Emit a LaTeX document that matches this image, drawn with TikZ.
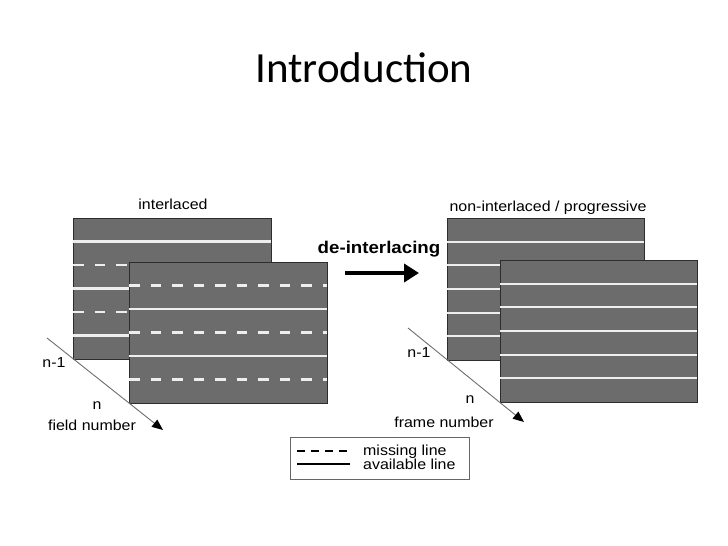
\documentclass[tikz,border=0pt]{standalone}
\usepackage{fontspec}
\newfontfamily\titlefont{Carlito}
\newfontfamily\diagfont[FakeStretch=1.1]{Liberation Sans}
\usetikzlibrary{arrows.meta}
\definecolor{fieldgray}{RGB}{108,108,108}
\definecolor{edgegray}{RGB}{45,45,45}
\definecolor{linewhite}{RGB}{238,238,238}
\definecolor{axisgray}{RGB}{110,110,110}
\begin{document}
\begin{tikzpicture}[x=1pt,y=-1pt,
  field/.style={draw=edgegray, line width=1pt, fill=fieldgray},
  solidline/.style={draw=linewhite, line width=2.2pt},
  dashline/.style={draw=linewhite, line width=2.2pt, dash pattern=on 10.5pt off 11pt},
  lbl/.style={inner sep=0pt, font=\diagfont\fontsize{14.5}{17}\selectfont, text=black},
  axis/.style={draw=axisgray, line width=0.9pt, -{Triangle[length=11pt,width=9pt,color=black]}},
  bigarrow/.style={draw=black, line width=4pt, -{Triangle[length=15pt,width=18pt]}},
  legendbox/.style={draw=black!60, line width=1pt}
]
\useasboundingbox (0,0) rectangle (728,546);
\fill[white] (0,0) rectangle (728,546);

% title
\node[inner sep=0pt, anchor=base, font=\titlefont\fontsize{43}{50}\selectfont] (title) at (364,82) {Introduction};

% ---------- left: interlaced ----------
\path[field] (73,218) rectangle (271,359);
\foreach \y in {241.5,288.5,335.5} \draw[solidline] (73,\y) -- (271,\y);
\foreach \y in {265,312} \draw[dashline] (73,\y) -- (271,\y);
\path[field] (129,262) rectangle (327,403);
\foreach \y in {309,356} \draw[solidline] (129,\y) -- (327,\y);
\foreach \y in {285.5,332.5,379.5} \draw[dashline] (129,\y) -- (327,\y);

\node[lbl, anchor=base] (interl) at (173,209) {interlaced};
\node[lbl, anchor=base] (lnm1) at (54,367) {n-1};
\node[lbl, anchor=base] (ln) at (97,409) {n};
\node[lbl, anchor=base] (lfield) at (92,430) {field number};
\coordinate (la0) at (47,338);
\coordinate (la1) at (163,430);
\draw[axis] (la0) -- (la1);

% ---------- middle arrow ----------
\node[inner sep=0pt, anchor=base, font=\diagfont\bfseries\fontsize{17}{20}\selectfont] (deint) at (379,253) {de-interlacing};
\coordinate (ma0) at (345,273);
\coordinate (ma1) at (419,273);
\draw[bigarrow] (ma0) -- (ma1);

% ---------- right: progressive ----------
\path[field] (447,218) rectangle (644,360);
\foreach \y in {241.7,265.3,289,312.7,336.3} \draw[solidline] (447,\y) -- (644,\y);
\path[field] (500,260) rectangle (697,402);
\foreach \y in {283.7,307.3,331,354.7,378.3} \draw[solidline] (500,\y) -- (697,\y);

\node[lbl, anchor=base] (prog) at (548,211) {non-interlaced / progressive};
\node[lbl, anchor=base] (rnm1) at (419,357) {n-1};
\node[lbl, anchor=base] (rn) at (470,403) {n};
\node[lbl, anchor=base] (rframe) at (444,427) {frame number};
\coordinate (ra0) at (408,328);
\coordinate (ra1) at (524,422);
\draw[axis] (ra0) -- (ra1);

% ---------- legend ----------
\path[legendbox] (290,437) rectangle (469,479);
\coordinate (d0) at (297,451); \coordinate (d1) at (350,451);
\coordinate (s0) at (297,464); \coordinate (s1) at (350,464);
\draw[black, line width=1.2pt, dash pattern=on 8pt off 6pt] (d0) -- (d1);
\draw[black, line width=1.2pt] (s0) -- (s1);
\node[lbl, anchor=base west] (miss) at (363,455) {missing line};
\node[lbl, anchor=base west] (avail) at (363,469) {available line};
\end{tikzpicture}
\end{document}
